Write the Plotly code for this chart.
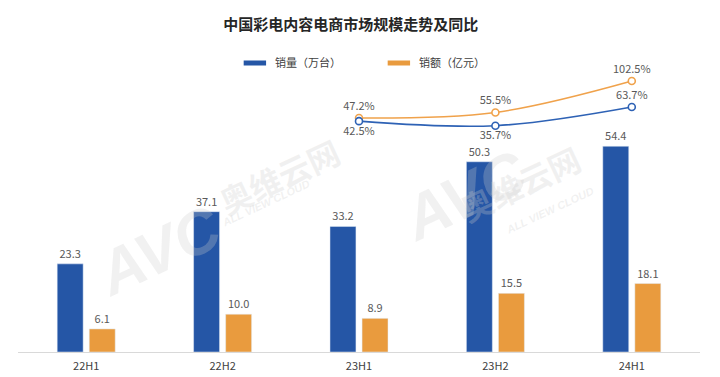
import plotly.graph_objects as go

categories = ["22H1", "22H2", "23H1", "23H2", "24H1"]
volume = [23.3, 37.1, 33.2, 50.3, 54.4]          # 销量（万台）
revenue = [6.1, 10.0, 8.9, 15.5, 18.1]           # 销额（亿元）
yoy_categories = ["23H1", "23H2", "24H1"]
volume_yoy = [42.5, 35.7, 63.7]
revenue_yoy = [47.2, 55.5, 102.5]

BLUE = "#2556A6"
ORANGE = "#E99B3E"
FONT = "Noto Sans CJK SC"

fig = go.Figure()
fig.add_trace(go.Bar(
    x=categories, y=volume, name="销量（万台）", marker_color=BLUE, showlegend=False,
    text=[f"{v:.1f}" for v in volume], textposition="outside",
    textfont=dict(color="#595959", size=11, family=FONT), cliponaxis=False,
))
fig.add_trace(go.Bar(
    x=categories, y=revenue, name="销额（亿元）", marker_color=ORANGE, showlegend=False,
    text=[f"{v:.1f}" for v in revenue], textposition="outside",
    textfont=dict(color="#595959", size=11, family=FONT), cliponaxis=False,
))
fig.add_trace(go.Scatter(
    x=yoy_categories, y=revenue_yoy, yaxis="y2", mode="lines+markers+text",
    line=dict(color="#F0A24B", width=1.6, shape="spline"),
    marker=dict(symbol="circle", size=7, color="white", line=dict(color="#F0A24B", width=1.6)),
    text=[f"{v:.1f}%" for v in revenue_yoy], textposition="top center",
    textfont=dict(color="#595959", size=11, family=FONT),
    showlegend=False, cliponaxis=False,
))
fig.add_trace(go.Scatter(
    x=yoy_categories, y=volume_yoy, yaxis="y2", mode="lines+markers+text",
    line=dict(color="#2E62B5", width=1.6, shape="spline"),
    marker=dict(symbol="circle", size=7, color="white", line=dict(color="#2E62B5", width=1.6)),
    text=[f"{v:.1f}%" for v in volume_yoy],
    textposition=["bottom center", "bottom center", "top center"],
    textfont=dict(color="#595959", size=11, family=FONT),
    showlegend=False, cliponaxis=False,
))
# legend-only entries (wide thin swatches like the original)
for nm, col in [("销量（万台）", BLUE), ("销额（亿元）", ORANGE)]:
    fig.add_trace(go.Scatter(
        x=[None], y=[None], mode="markers", name=nm,
        marker=dict(symbol="line-ew", size=20, line=dict(color=col, width=5)),
    ))

# faint watermarks
WM = "rgba(205,205,205,0.28)"
for dx, dy in [(0.0, 0.0), (0.560, -0.025)]:
    fig.add_annotation(xref="paper", yref="paper", x=0.095 + dx, y=0.349 + dy,
                       text="<b><i>AVC</i></b>", showarrow=False, textangle=-25,
                       font=dict(size=62, color=WM, family="Liberation Sans"))
    fig.add_annotation(xref="paper", yref="paper", x=0.279 + dx, y=0.603 + dy,
                       text="<b>奥维云网</b>", showarrow=False, textangle=-25,
                       font=dict(size=32, color=WM, family=FONT))
    fig.add_annotation(xref="paper", yref="paper", x=0.292 + dx, y=0.510 + dy,
                       text="<b><i>ALL VIEW CLOUD</i></b>", showarrow=False, textangle=-25,
                       font=dict(size=11, color=WM, family="Liberation Sans"))

fig.update_layout(
    width=720, height=377,
    margin=dict(l=18, r=20, t=60, b=25, autoexpand=False),
    paper_bgcolor="white", plot_bgcolor="white",
    font=dict(family=FONT, color="#404040"),
    title=dict(text="<b>中国彩电内容电商市场规模走势及同比</b>", x=0.487, xanchor="center",
               y=0.935, yanchor="middle", font=dict(size=15, color="#262626", family=FONT)),
    barmode="group", bargap=0.53, bargroupgap=0.19,
    xaxis=dict(type="category", categoryorder="array", categoryarray=categories,
               showline=True, linecolor="#D9D9D9", linewidth=1, ticks="", automargin=False,
               ticklabelstandoff=4,
               tickfont=dict(size=11, color="#404040", family=FONT), showgrid=False),
    yaxis=dict(range=[0, 77.2], visible=False, showgrid=False, automargin=False),
    yaxis2=dict(range=[-302.6, 133.9], overlaying="y", visible=False, showgrid=False, automargin=False),
    legend=dict(orientation="h", x=0.318, xanchor="left", y=0.99, yanchor="middle",
                font=dict(size=11, color="#404040", family=FONT),
                entrywidth=99, bgcolor="rgba(0,0,0,0)"),
    showlegend=True,
)

fig.write_html("out.html", config={"displayModeBar": False},
               post_script="document.body.style.margin='0px';")
